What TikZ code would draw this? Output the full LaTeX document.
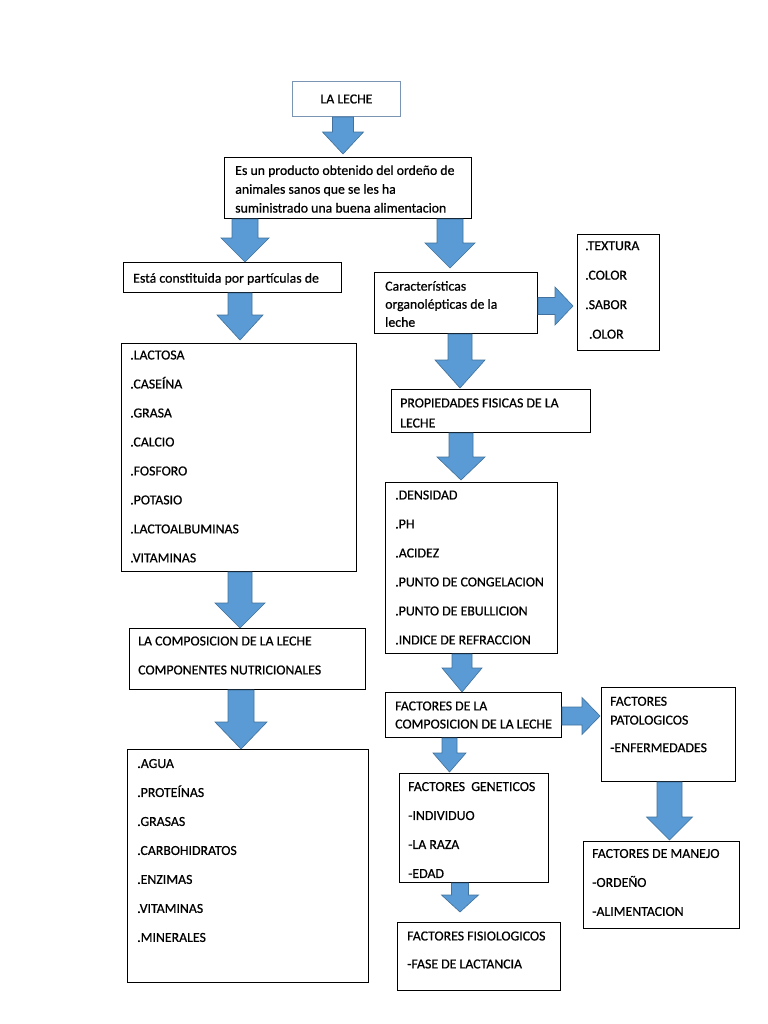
\documentclass[tikz,border=0pt]{standalone}
\usepackage{fontspec}
\setmainfont{Carlito}[FakeBold=0.6]
\usepackage{tikz}
\usetikzlibrary{calc}
\def\pxu{0.796875pt}
\definecolor{azulflecha}{HTML}{5B9BD5}
\definecolor{bordeflecha}{HTML}{41719C}
\definecolor{bordeleche}{HTML}{7A94B4}
\tikzset{
  caja/.style={draw=black, line width=0.8pt, inner sep=0pt, anchor=north west},
  lista/.style={anchor=west, align=left, inner sep=0pt, font=\fontsize{11}{23.1}\selectfont},
  parrafo/.style={anchor=west, align=left, inner sep=0pt, font=\fontsize{11}{15}\selectfont},
  flecha/.style={fill=azulflecha, draw=bordeflecha, line width=0.5pt}
}
% origen, destino, x, cuerpo, punta, largo de punta, hueco
\newcommand{\flechaabajo}[7]{%
  \filldraw[flecha] let \p1=(#1.south), \p2=(#2.north) in
    ({(#3-#4/2)*\pxu},\y1) -- ({(#3+#4/2)*\pxu},\y1)
    -- ({(#3+#4/2)*\pxu},{\y2+(#6+#7)*\pxu}) -- ({(#3+#5/2)*\pxu},{\y2+(#6+#7)*\pxu})
    -- ({#3*\pxu},{\y2+#7*\pxu})
    -- ({(#3-#5/2)*\pxu},{\y2+(#6+#7)*\pxu}) -- ({(#3-#4/2)*\pxu},{\y2+(#6+#7)*\pxu}) -- cycle;}
% origen, destino, y, cuerpo, punta, largo de punta, hueco
\newcommand{\flechaderecha}[7]{%
  \filldraw[flecha] let \p1=(#1.east), \p2=(#2.west) in
    (\x1,{-(#3-#4/2)*\pxu}) -- ({\x2-(#6+#7)*\pxu},{-(#3-#4/2)*\pxu})
    -- ({\x2-(#6+#7)*\pxu},{-(#3-#5/2)*\pxu}) -- ({\x2-#7*\pxu},{-#3*\pxu})
    -- ({\x2-(#6+#7)*\pxu},{-(#3+#5/2)*\pxu}) -- ({\x2-(#6+#7)*\pxu},{-(#3+#4/2)*\pxu})
    -- (\x1,{-(#3+#4/2)*\pxu}) -- cycle;}

\begin{document}
\begin{tikzpicture}[x=\pxu, y=-\pxu]
  \useasboundingbox (0,0) rectangle (768,1024);

  \node[caja, draw=bordeleche, minimum width=108*\pxu, minimum height=35*\pxu,
        font=\fontsize{11}{15}\selectfont] (leche) at (292,81) {LA LECHE};

  \node[caja, minimum width=247*\pxu, minimum height=61*\pxu] (producto) at (224,157) {};
  \node[parrafo] (productot) at (235,189) {Es un producto obtenido del ordeño de\\
    animales sanos que se les ha\\ suministrado una buena alimentacion};

  \node[caja, minimum width=218*\pxu, minimum height=30*\pxu] (constituida) at (123,262) {};
  \node[parrafo] (constituidat) at (133,279) {Está constituida por partículas de};

  \node[caja, minimum width=163*\pxu, minimum height=61*\pxu] (caract) at (374,272) {};
  \node[parrafo, font=\fontsize{11}{14.4}\selectfont] (caractt) at (385,304)
    {Características\\ organolépticas de la\\ leche};

  \node[caja, minimum width=82*\pxu, minimum height=116*\pxu] (textura) at (577,234) {};
  \node[lista, font=\fontsize{11}{23.5}\selectfont] (texturat) at (585,290)
    {.TEXTURA\\ .COLOR\\ .SABOR\\ \hspace{3pt}.OLOR};

  \node[caja, minimum width=235*\pxu, minimum height=228*\pxu] (lactosa) at (121,343) {};
  \node[lista] (lactosat) at (130,456.5) {.LACTOSA\\ .CASEÍNA\\ .GRASA\\ .CALCIO\\
    .FOSFORO\\ .POTASIO\\ .LACTOALBUMINAS\\ .VITAMINAS};

  \node[caja, minimum width=199*\pxu, minimum height=43*\pxu] (propiedades) at (391,389) {};
  \node[parrafo, font=\fontsize{11}{16}\selectfont] (propiedadest) at (400,413)
    {PROPIEDADES FISICAS DE LA\\ LECHE};

  \node[caja, minimum width=172*\pxu, minimum height=171*\pxu] (densidad) at (385,482) {};
  \node[lista] (densidadt) at (395,567.5) {.DENSIDAD\\ .PH\\ .ACIDEZ\\
    .PUNTO DE CONGELACION\\ .PUNTO DE EBULLICION\\ .INDICE DE REFRACCION};

  \node[caja, minimum width=236*\pxu, minimum height=61*\pxu] (composicion) at (129,628) {};
  \node[lista] (composiciont) at (138,655.5) {LA COMPOSICION DE LA LECHE\\
    COMPONENTES NUTRICIONALES};

  \node[caja, minimum width=241*\pxu, minimum height=233*\pxu] (agua) at (127,749) {};
  \node[lista] (aguat) at (137,850.5) {.AGUA\\ .PROTEÍNAS\\ .GRASAS\\ .CARBOHIDRATOS\\
    .ENZIMAS\\ .VITAMINAS\\ .MINERALES};

  \node[caja, minimum width=176*\pxu, minimum height=45*\pxu] (factores) at (385,692) {};
  \node[parrafo, font=\fontsize{11}{14.4}\selectfont] (factorest) at (395,715)
    {FACTORES DE LA\\ COMPOSICION DE LA LECHE};

  \node[caja, minimum width=134*\pxu, minimum height=94*\pxu] (patologicos) at (601,687) {};
  \node[parrafo] (patologicost) at (610,724.5) {FACTORES\\ PATOLOGICOS\\[7pt] -ENFERMEDADES};

  \node[caja, minimum width=149*\pxu, minimum height=109*\pxu] (geneticos) at (399,773) {};
  \node[lista] (geneticost) at (408,830) {FACTORES\ \ GENETICOS\\ -INDIVIDUO\\ -LA RAZA\\ -EDAD};

  \node[caja, minimum width=156*\pxu, minimum height=87*\pxu] (manejo) at (583,841) {};
  \node[lista] (manejot) at (592,882.5) {FACTORES DE MANEJO\\ -ORDEÑO\\ -ALIMENTACION};

  \node[caja, minimum width=163*\pxu, minimum height=68*\pxu] (fisiologicos) at (397,922) {};
  \node[lista, font=\fontsize{11}{22.3}\selectfont] (fisiologicost) at (407,950)
    {FACTORES FISIOLOGICOS\\ -FASE DE LACTANCIA};

  \flechaabajo{leche}{producto}{343}{21}{41}{22}{3}
  \flechaabajo{producto}{constituida}{245}{26}{48}{24}{0}
  \flechaabajo{producto}{caract}{450}{26}{50}{25}{4}
  \flechaabajo{constituida}{lactosa}{240}{24}{46}{25}{3}
  \flechaabajo{caract}{propiedades}{460}{24}{50}{28}{1}
  \flechaabajo{propiedades}{densidad}{461}{24}{48}{23}{2}
  \flechaabajo{densidad}{factores}{462}{20}{40}{24}{0}
  \flechaabajo{lactosa}{composicion}{240}{24}{50}{25}{0}
  \flechaabajo{composicion}{agua}{241}{26}{52}{27}{0}
  \flechaabajo{factores}{geneticos}{449.5}{15}{33}{19}{1}
  \flechaabajo{geneticos}{fisiologicos}{460}{17}{37}{17}{10}
  \flechaabajo{patologicos}{manejo}{669.5}{25}{46}{23}{1}

  \flechaderecha{caract}{textura}{306}{17}{38}{18}{4}
  \flechaderecha{factores}{patologicos}{716}{18}{37}{18}{1}
\end{tikzpicture}
\end{document}
